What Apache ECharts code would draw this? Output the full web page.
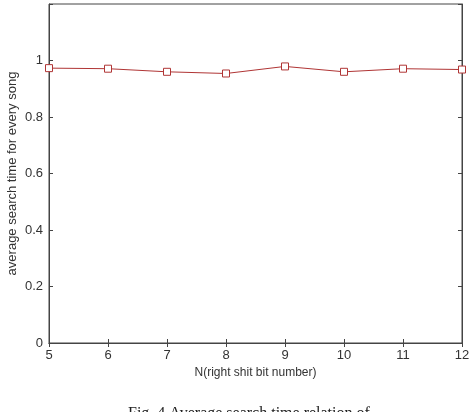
<!DOCTYPE html>
<html>
<head>
<meta charset="utf-8">
<script src="https://cdn.jsdelivr.net/npm/echarts@6/dist/echarts.min.js"></script>
<style>
  html, body { margin: 0; padding: 0; background: #fff; }
  #chart { width: 474px; height: 412px; }
</style>
</head>
<body>
<div id="chart"></div>
<script>
// N values and the average search time
var nValues = [5, 6, 7, 8, 9, 10, 11, 12];
var searchTime = [0.973, 0.971, 0.960, 0.954, 0.979, 0.960, 0.971, 0.968];
var yTickLabels = ['0', '0.2', '0.4', '0.6', '0.8', '1'];
var captionText = 'Fig. 4 Average search time relation of';

var chart = echarts.init(document.getElementById('chart'));

var points = nValues.map(function (n, i) {
    return [n, searchTime[i]];
});

// matlab style box: ticks point inwards on all four sides
var boxLine = { show: true, lineStyle: { color: '#444', width: 1 } };
var inTick = { show: true, inside: true, length: 4, lineStyle: { color: '#444' } };

var option = {
    backgroundColor: '#fff',
    animation: false,
    grid: {
        left: 49, right: 12, top: 4, bottom: 69,
        outerBoundsMode: 'none', containLabel: false,
        show: true, borderColor: '#444', borderWidth: 1
    },
    xAxis: [{
        type: 'value',
        min: 5, max: 12, interval: 1,
        position: 'bottom',
        name: 'N(right shit bit number)',
        nameLocation: 'middle',
        nameGap: 24,
        nameMoveOverlap: false,
        nameTextStyle: { fontFamily: 'Liberation Sans', fontSize: 12, color: '#333' },
        axisLine: boxLine,
        axisTick: inTick,
        splitLine: { show: false },
        axisLabel: { fontFamily: 'Liberation Sans', fontSize: 13, color: '#333', margin: 6 }
    }, {
        type: 'value',
        min: 5, max: 12, interval: 1,
        position: 'top',
        axisLine: boxLine,
        axisTick: inTick,
        splitLine: { show: false },
        axisLabel: { show: false }
    }],
    yAxis: [{
        type: 'value',
        min: 0, max: 1.2, interval: 0.2,
        position: 'left',
        name: 'average search time for every song',
        nameLocation: 'middle',
        nameGap: 30,
        nameMoveOverlap: false,
        nameTextStyle: { fontFamily: 'Liberation Sans', fontSize: 13, color: '#333' },
        axisLine: boxLine,
        axisTick: inTick,
        splitLine: { show: false },
        axisLabel: {
            fontFamily: 'Liberation Sans', fontSize: 13, color: '#333', margin: 6,
            formatter: function (v) {
                var i = Math.round(v / 0.2);
                return i < yTickLabels.length ? yTickLabels[i] : '';
            }
        }
    }, {
        type: 'value',
        min: 0, max: 1.2, interval: 0.2,
        position: 'right',
        axisLine: boxLine,
        axisTick: inTick,
        splitLine: { show: false },
        axisLabel: { show: false }
    }],
    graphic: [{
        type: 'text',
        left: 128,
        top: 406,
        style: {
            text: captionText,
            font: '16px "Liberation Serif"',
            fill: '#222'
        }
    }],
    series: [{
        type: 'line',
        data: points,
        symbol: 'rect',
        symbolSize: 7,
        itemStyle: { color: '#fff', borderColor: '#b03535', borderWidth: 1 },
        lineStyle: { color: '#b03535', width: 1 }
    }]
};

chart.setOption(option);
</script>
</body>
</html>
